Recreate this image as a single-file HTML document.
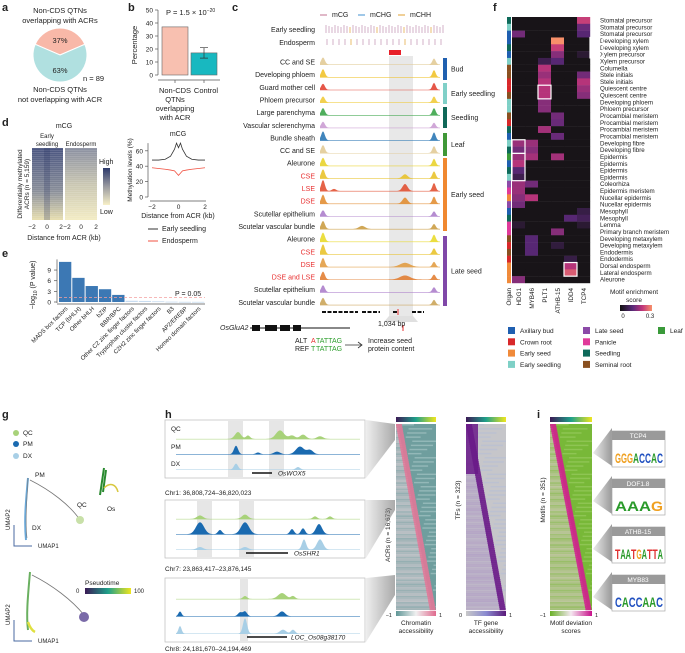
<!DOCTYPE html>
<html><head><meta charset="utf-8"><style>
body{margin:0;background:#fff}
svg{display:block;font-family:"Liberation Sans",sans-serif}
text{fill:#222}
</style></head><body>
<svg id="fig" width="685" height="653" viewBox="0 0 685 653">
<g font-size="7.5">
<text x="2" y="11" font-size="11" font-weight="bold">a</text>
<text x="60" y="13" text-anchor="middle">Non-CDS QTNs</text>
<text x="60" y="23" text-anchor="middle">overlapping with ACRs</text>
<g id="pie"></g>
<text x="83" y="81">n = 89</text>
<text x="60" y="92" text-anchor="middle">Non-CDS QTNs</text>
<text x="60" y="102" text-anchor="middle">not overlapping with ACR</text>
</g>
<g id="pb" font-size="7.5">
<text x="128" y="11" font-size="11" font-weight="bold">b</text>
<text x="137" y="45" transform="rotate(-90 137 45)" text-anchor="middle">Percentage</text>
<text x="166" y="15">P = 1.5 × 10<tspan dy="-3" font-size="5">−20</tspan></text>
<text x="175" y="93" text-anchor="middle">Non-CDS</text>
<text x="175" y="102" text-anchor="middle">QTNs</text>
<text x="175" y="111" text-anchor="middle">overlapping</text>
<text x="175" y="120" text-anchor="middle">with ACR</text>
<text x="206" y="93" text-anchor="middle">Control</text>
</g>
<g id="pd" font-size="7">
<text x="2" y="126" font-size="11" font-weight="bold">d</text>
<text x="64" y="128" text-anchor="middle">mCG</text>
<text x="47" y="138" text-anchor="middle" font-size="6">Early</text>
<text x="47" y="146" text-anchor="middle" font-size="6">seedling</text>
<text x="81" y="146" text-anchor="middle" font-size="6">Endosperm</text>
<defs>
<linearGradient id="hmA" x1="0" y1="0" x2="0" y2="1"><stop offset="0" stop-color="#4a5580"/><stop offset="0.6" stop-color="#8a8f9a"/><stop offset="1" stop-color="#e8dfb0"/></linearGradient>
<linearGradient id="hmB" x1="0" y1="0" x2="0" y2="1"><stop offset="0" stop-color="#8a8fa0"/><stop offset="0.5" stop-color="#c9c6b2"/><stop offset="1" stop-color="#f3ecc4"/></linearGradient>
<linearGradient id="hmCol" x1="0" y1="0" x2="0" y2="1"><stop offset="0" stop-color="#2d3a6b"/><stop offset="0.5" stop-color="#9a9aa0"/><stop offset="1" stop-color="#f7f0c8"/></linearGradient>
<linearGradient id="viri" x1="0" x2="1"><stop offset="0" stop-color="#3b1a55"/><stop offset="0.5" stop-color="#1fa08a"/><stop offset="1" stop-color="#f0e61e"/></linearGradient>
<linearGradient id="magma" x1="0" x2="1"><stop offset="0" stop-color="#111"/><stop offset="0.4" stop-color="#5a2a7a"/><stop offset="0.7" stop-color="#c0357a"/><stop offset="1" stop-color="#f8906a"/></linearGradient>
<linearGradient id="tealpink" x1="0" x2="1"><stop offset="0" stop-color="#5f9696"/><stop offset="0.5" stop-color="#f0f0f0"/><stop offset="1" stop-color="#e06a8e"/></linearGradient>
<linearGradient id="graypur" x1="0" x2="1"><stop offset="0" stop-color="#c8c8c8"/><stop offset="0.5" stop-color="#8a8ad0"/><stop offset="1" stop-color="#5a1a7a"/></linearGradient>
<linearGradient id="greenmag" x1="0" x2="1"><stop offset="0" stop-color="#6ab028"/><stop offset="0.5" stop-color="#f4e8f0"/><stop offset="1" stop-color="#c8108a"/></linearGradient>
<linearGradient id="fade" x1="0" x2="1"><stop offset="0" stop-color="#ddd"/><stop offset="1" stop-color="#555"/></linearGradient>
</defs>
<rect x="32" y="148" width="31" height="72" fill="url(#hmA)"/>
<rect x="65" y="148" width="32" height="72" fill="url(#hmB)"/>
<rect x="103" y="168" width="7" height="37" fill="url(#hmCol)"/>
<text x="99" y="164">High</text><text x="100" y="214">Low</text>
<text x="22" y="184" transform="rotate(-90 22 184)" text-anchor="middle" font-size="6.5">Differentially methylated</text>
<text x="29" y="184" transform="rotate(-90 29 184)" text-anchor="middle" font-size="6.5">ACRs (n = 5,159)</text>
<text x="32" y="229" text-anchor="middle" font-size="6.5">−2</text><text x="47" y="229" text-anchor="middle" font-size="6.5">0</text><text x="61" y="229" text-anchor="middle" font-size="6.5">2</text>
<text x="67" y="229" text-anchor="middle" font-size="6.5">−2</text><text x="81" y="229" text-anchor="middle" font-size="6.5">0</text><text x="96" y="229" text-anchor="middle" font-size="6.5">2</text>
<text x="64" y="240" text-anchor="middle">Distance from ACR (kb)</text>
<text x="178" y="136" text-anchor="middle">mCG</text>
<text x="132" y="170" transform="rotate(-90 132 170)" text-anchor="middle" font-size="6.5">Methylation levels (%)</text>
<text x="178" y="218" text-anchor="middle">Distance from ACR (kb)</text>
<line x1="148" y1="229" x2="158" y2="229" stroke="#333"/><text x="162" y="231">Early seedling</text>
<line x1="148" y1="241" x2="158" y2="241" stroke="#f05040"/><text x="162" y="243">Endosperm</text>
</g>
<g id="pe" font-size="6.5">
<text x="2" y="257" font-size="11" font-weight="bold">e</text>
<text x="35" y="285" transform="rotate(-90 35 285)" text-anchor="middle" font-size="7">−log<tspan font-size="5" dy="2">10</tspan><tspan dy="-2"> (P value)</tspan></text>
<text x="175" y="296" font-size="7">P = 0.05</text>
</g>
<g id="pc" font-size="7">
<text x="232" y="11" font-size="11" font-weight="bold">c</text>
<line x1="320" y1="15" x2="327" y2="15" stroke="#c07090"/><text x="332" y="17">mCG</text>
<line x1="358" y1="15" x2="365" y2="15" stroke="#4090d0"/><text x="370" y="17">mCHG</text>
<line x1="398" y1="15" x2="405" y2="15" stroke="#e0a030"/><text x="410" y="17">mCHH</text>
<text x="315" y="32" text-anchor="end">Early seedling</text>
<text x="315" y="45" text-anchor="end">Endosperm</text>
<rect x="389" y="56" width="24" height="260" fill="#e8e8e8"/>
<rect x="389" y="50" width="12" height="5" fill="#e8202a"/>
</g>
<g id="pf" font-size="6">
<text x="493" y="11" font-size="11" font-weight="bold">f</text>
<text x="634" y="294" text-anchor="middle" font-size="6.5">Motif enrichment</text>
<text x="634" y="302" text-anchor="middle" font-size="6.5">score</text>
<rect x="620" y="305" width="32" height="6" fill="url(#magma)"/>
<text x="623" y="318" text-anchor="middle">0</text><text x="650" y="318" text-anchor="middle">0.3</text>
</g>
<g id="pg" font-size="6.5">
<text x="2" y="418" font-size="11" font-weight="bold">g</text>
<circle cx="16" cy="433" r="3" fill="#a8d27a"/><text x="23" y="435">QC</text>
<circle cx="16" cy="444" r="3" fill="#1a6ab0"/><text x="23" y="446">PM</text>
<circle cx="16" cy="456" r="3" fill="#a8cfe6"/><text x="23" y="458">DX</text>
<path d="M28,478 C26,500 24,520 26,540" stroke="#6aa8d8" stroke-width="2" fill="none"/>
<path d="M30,480 C50,490 70,505 80,520" stroke="#777" stroke-width="0.8" fill="none"/>
<path d="M28,478 C27,500 25,520 27,538" stroke="#777" stroke-width="0.6" fill="none"/>
<circle cx="80" cy="520" r="4" fill="#c8e0a8"/>
<text x="35" y="477">PM</text><text x="77" y="507">QC</text><text x="32" y="530">DX</text>
<path d="M104,468 L100,495 M106,470 L103,492" stroke="#2a8a30" stroke-width="2"/>
<path d="M104,488 C110,482 116,484 118,492" stroke="#d8c840" stroke-width="1.5" fill="none"/>
<text x="107" y="511">Os</text>
<path d="M14,525 L14,546 L32,546" stroke="#4a6aa0" fill="none"/>
<text x="10" y="530" transform="rotate(-90 10 530)" font-size="6">UMAP2</text>
<text x="38" y="548" font-size="6">UMAP1</text>
<path d="M30,572 C28,595 26,615 28,630" stroke="#6ab060" stroke-width="2" fill="none"/>
<path d="M28,622 C30,628 33,631 35,632" stroke="#e0e040" stroke-width="2.5" fill="none"/>
<path d="M32,575 C52,585 72,600 84,615" stroke="#777" stroke-width="0.8" fill="none"/>
<circle cx="84" cy="617" r="5" fill="#7a6aa8"/>
<text x="85" y="585" font-size="6.5">Pseudotime</text>
<text x="76" y="593" font-size="6">0</text>
<rect x="85" y="588" width="46" height="6" fill="url(#viri)"/>
<text x="134" y="593" font-size="6">100</text>
<path d="M14,620 L14,641 L32,641" stroke="#4a6aa0" fill="none"/>
<text x="10" y="625" transform="rotate(-90 10 625)" font-size="6">UMAP2</text>
<text x="38" y="643" font-size="6">UMAP1</text>
</g>
<g id="ph" font-size="6.5">
<text x="165" y="418" font-size="11" font-weight="bold">h</text>
<text x="165" y="495">Chr1: 36,808,724–36,820,023</text>
<text x="165" y="571">Chr7: 23,863,417–23,876,145</text>
<text x="165" y="651">Chr8: 24,181,670–24,194,469</text>
<text x="171" y="431">QC</text><text x="171" y="449">PM</text><text x="171" y="466">DX</text>
</g>
<g id="phm" font-size="6.5"></g>
<g id="pi" font-size="6.5">
<text x="537" y="418" font-size="11" font-weight="bold">i</text>
</g>
</svg>
<script>
const NS='http://www.w3.org/2000/svg';
function mk(tag,attrs,parent){const e=document.createElementNS(NS,tag);for(const k in attrs)e.setAttribute(k,attrs[k]);parent.appendChild(e);return e;}
function tx(parent,x,y,s,attrs){const e=mk('text',Object.assign({x:x,y:y},attrs||{}),parent);e.textContent=s;return e;}

const pieLabels=['37%','63%'];
const pieValues=[37,63];
const pieColors=['#f8b8a8','#b0e0e0'];
(function(){const g=document.getElementById('pie');const cx=60,cy=55,r=27;let start=-pieValues[0]/100*Math.PI;
pieValues.forEach((v,i)=>{const a=v/100*2*Math.PI;const s=start,e=start+a;
const x1=cx+r*Math.sin(s),y1=cy-r*Math.cos(s),x2=cx+r*Math.sin(e),y2=cy-r*Math.cos(e);
const p=mk('path',{d:`M${cx},${cy} L${x1},${y1} A${r},${r} 0 ${a>Math.PI?1:0} 1 ${x2},${y2} Z`,fill:pieColors[i],stroke:'#fff','stroke-width':1},g);

const m=(s+e)/2;tx(g,cx+r*0.55*Math.sin(m),cy-r*0.55*Math.cos(m)+3,pieLabels[i],{'text-anchor':'middle','font-size':7.5});
start=e;});})();

const bCats=['Non-CDS','Control'];
const bValues=[37,17];
const bErr=[0,4];
const bTicks=[0,10,20,30,40,50];
(function(){const g=document.getElementById('pb');const y=v=>75-v*1.3;
mk('line',{x1:158,y1:y(0),x2:158,y2:y(50),stroke:'#555','stroke-width':0.7},g);
mk('line',{x1:158,y1:80,x2:220,y2:80,stroke:'#555','stroke-width':0.7},g);
bTicks.forEach(t=>{mk('line',{x1:155,y1:y(t),x2:158,y2:y(t),stroke:'#555','stroke-width':0.7},g);tx(g,153,y(t)+2.5,String(t),{'text-anchor':'end','font-size':6.5});});
const cols=['#f8c0b0','#18b8c0'];
bValues.forEach((v,i)=>{const x=162+i*29;const r=mk('rect',{x:x,y:y(v),width:26,height:v*1.3,fill:cols[i],stroke:'#666','stroke-width':0.6},g);

if(bErr[i]){const cx=x+13;mk('path',{d:`M${cx},${y(v+bErr[i])}V${y(v-bErr[i])}M${cx-4},${y(v+bErr[i])}h8M${cx-4},${y(v-bErr[i])}h8`,stroke:'#333','stroke-width':0.7,fill:'none'},g);}
mk('line',{x1:x+13,y1:80,x2:x+13,y2:83,stroke:'#555','stroke-width':0.7},g);});})();

const dX=[-2,-1.5,-1,-0.6,-0.3,-0.15,0,0.15,0.3,0.6,1,1.5,2];
const dEarly=[48,48,49,53,62,70,64,70,62,53,49,48,48];
const dEndo=[38,37,36,35,34,31,28,31,34,35,36,37,38];
const dTicks=[0,20,40,60];
(function(){const g=document.getElementById('pd');const X=v=>152+(v+2)/4*53,Y=v=>197-v*0.77;
mk('path',{d:`M148,${Y(70)}V${Y(0)}M150,201H206`,stroke:'#555','stroke-width':0.7,fill:'none'},g);
dTicks.forEach(t=>{mk('line',{x1:145,y1:Y(t),x2:148,y2:Y(t),stroke:'#555','stroke-width':0.7},g);tx(g,143,Y(t)+2.5,String(t),{'text-anchor':'end','font-size':6.5});});
[-2,0,2].forEach(t=>tx(g,X(t),209,t<0?'−2':String(t),{'text-anchor':'middle','font-size':6.5}));
const l1=mk('path',{d:dX.map((v,i)=>(i?'L':'M')+X(v)+','+Y(dEarly[i])).join(''),fill:'none',stroke:'#333','stroke-width':0.8},g);

const l2=mk('path',{d:dX.map((v,i)=>(i?'L':'M')+X(v)+','+Y(dEndo[i])).join(''),fill:'none',stroke:'#f05040','stroke-width':0.8},g);

const hg=document.getElementById('pd');for(let i=0;i<36;i++){const o=0.08+0.08*((i*7)%5)/5;mk('rect',{x:32,y:148+i*2,width:31,height:1,fill:'#fff',opacity:o},hg);mk('rect',{x:65,y:148+i*2,width:32,height:1,fill:'#fff',opacity:o},hg);}
mk('rect',{x:44,y:148,width:6,height:72,fill:'#223060',opacity:0.25},hg);})();

const eCats=['MADS box factors','TCP (bHLH)','Other bHLH','bZIP','BBR/BPC','Other C2 zinc finger factors','Tryptophan cluster factors','C2H2 zinc finger factors','B3','AP2/EREBP','Homeo domain factors'];
const eValues=[11.3,6.8,4.5,3.6,2.0,0.35,0.3,0.2,0.1,0.06,0.05];
const eTicks=[0,3,6,9];
const eThresh=1.3;
(function(){const g=document.getElementById('pe');const Y=v=>302-v*3.55;
mk('line',{x1:57,y1:Y(12),x2:57,y2:303,stroke:'#555','stroke-width':0.7},g);
mk('line',{x1:57,y1:304,x2:205,y2:304,stroke:'#555','stroke-width':0.7},g);
eTicks.forEach(t=>{mk('line',{x1:54,y1:Y(t),x2:57,y2:Y(t),stroke:'#555','stroke-width':0.7},g);tx(g,51,Y(t)+2.5,String(t),{'text-anchor':'end'});});
eValues.forEach((v,i)=>{const x=59+i*13.3;const b=mk('rect',{x:x,y:Y(v),width:12.3,height:Math.max(v*3.55,0.8),fill:i<5?'#3c78b4':'#c8dcf0'},g);

tx(g,x+9,309,eCats[i],{transform:`rotate(-45 ${x+9} 309)`,'text-anchor':'end','font-size':6});});
mk('line',{x1:59,y1:Y(eThresh),x2:205,y2:Y(eThresh),stroke:'#f4a0a0','stroke-dasharray':'3,2','stroke-width':0.8},g);})();

const cNames=['CC and SE','Developing phloem','Guard mother cell','Phloem precursor','Large parenchyma','Vascular sclerenchyma','Bundle sheath','CC and SE','Aleurone','CSE','LSE','DSE','Scutellar epithelium','Scutelar vascular bundle','Aleurone','CSE','DSE','DSE and LSE','Scutellar epithelium','Scutelar vascular bundle'];
const cColors=['#e0c890','#f0c020','#e03828','#f0c830','#30a040','#c898d0','#2070b0','#e0c890','#e8d020','#e8c020','#e04828','#e08828','#a878c8','#c89838','#e8d820','#e8c020','#e09838','#e07828','#a878c8','#c8a050'];
const cLeft=[7,8,6,6,7,6,9,8,8,9,11,9,6,8,9,10,9,8,7,7];
const cRight=[6,7,7,6,7,5,8,7,7,7,8,7,5,5,7,6,5,5,5,5];
const cMid=[0,0,0,0,0,0,0,0,0,4,7,6,0,0,0,0,4,4,0,0];
const cRed=[9,10,11,15,16,17];
const cGroups=[['Bud',58,80,'#2060b0'],['Early seedling',83,104,'#80d0c8'],['Seedling',107,128,'#106858'],['Leaf',133,156,'#409838'],['Early seed',158,231,'#f08830'],['Late seed',236,306,'#8048a8']];
(function(){const g=document.getElementById('pc');
const bump=(x,c,h,w)=>h*Math.exp(-((x-c)*(x-c))/(2*w*w));
cNames.forEach((n,i)=>{const ty=62+i*12.65;const base=ty+3;
const t=tx(g,315,ty+2.5,n,{'text-anchor':'end'});if(cRed.includes(i)){t.setAttribute('fill','#e83030');t.style.fill='#e83030';}
let d=`M320,${base}`;for(let x=320;x<=440;x+=1){let h=bump(x,323,cLeft[i],1.8)+bump(x,434,cRight[i],1.6)+bump(x,405,cMid[i],cMid[i]&&(i>=16)?5:2.5)+0.6;if(i==10)h+=bump(x,334,2,2);if(i==13)h+=bump(x,362,3,3);d+=`L${x},${base-h}`;}
d+=`L440,${base}Z`;const p=mk('path',{d:d,fill:cColors[i],opacity:0.85},g);});
cGroups.forEach(gr=>{mk('rect',{x:443,y:gr[1],width:4,height:gr[2]-gr[1],fill:gr[3]},g);tx(g,451,(gr[1]+gr[2])/2+2.5,gr[0],{'font-size':7});});
for(let i=0;i<40;i++){const x=326+i*3;const cc=i%9==8?'#e0a030':'#c090b0';mk('line',{x1:x,y1:25+(i%3),x2:x,y2:33,stroke:cc,'stroke-width':0.7},g);if(i%2==0)mk('line',{x1:x+1,y1:39,x2:x+1,y2:45,stroke:cc,'stroke-width':0.7},g);}
mk('path',{d:'M322,312H358M362,312H380M393,312H398M412,312H424',stroke:'#111','stroke-width':2,'stroke-dasharray':'4,1.5'},g);
mk('line',{x1:398,y1:309,x2:398,y2:315,stroke:'#e83030','stroke-width':1},g);
mk('polygon',{points:'389,316 413,316 418,322 384,322',fill:'#e0e0e0'},g);
tx(g,220,330,'OsGluA2',{'font-style':'italic'});
mk('path',{d:'M250,328H350',stroke:'#111','stroke-width':1},g);
mk('path',{d:'M252,325h8v6h-8zM265,325h12v6h-12zM280,325h10v6h-10zM293,325h8v6h-8z',fill:'#111'},g);
mk('line',{x1:403,y1:325,x2:403,y2:331,stroke:'#e83030'},g);
tx(g,378,326,'1,034 bp');
tx(g,295,343,'ALT ');tx(g,311,343,'A').style.fill='#e83030';tx(g,316,343,'TATTAG').style.fill='#30a030';
tx(g,295,351,'REF ');tx(g,311,351,'T').style.fill='#30a030';tx(g,316,351,'TATTAG').style.fill='#30a030';
tx(g,368,343,'Increase seed');tx(g,368,351,'protein content');
mk('path',{d:'M345,345H362M358,342l4,3l-4,3',stroke:'#333',fill:'none','stroke-width':0.8},g);})();

const fCols=['HDG1','MYB46','PLT1','ATHB-15','IDD4','TCP4'];
const fRows=['Stomatal precursor','Stomatal precursor','Stomatal precursor','Developing xylem','Developing xylem','Xylem precursor','Xylem precursor','Columella','Stele initials','Stele initials','Quiescent centre','Quiescent centre','Developing phloem','Phloem precursor','Procambial meristem','Procambial meristem','Procambial meristem','Procambial meristem','Developing fibre','Developing fibre','Epidermis','Epidermis','Epidermis','Epidermis','Coleorhiza','Epidermis meristem','Nucellar epidermis','Nucellar epidermis','Mesophyll','Mesophyll','Lemma','Primary branch meristem','Developing metaxylem','Developing metaxylem','Endodermis','Endodermis','Dorsal endosperm','Lateral endosperm','Aleurone'];
const fOrgan=['Seedling','Early seedling','Axillary bud','Axillary bud','Seedling','Axillary bud','Early seedling','Seminal root','Seminal root','Crown root','Crown root','Seminal root','Early seedling','Early seedling','Seminal root','Crown root','Seedling','Axillary bud','Early seedling','Seedling','Leaf','Axillary bud','Seedling','Early seedling','Late seed','Panicle','Early seed','Late seed','Axillary bud','Seedling','Panicle','Panicle','Seminal root','Crown root','Seminal root','Crown root','Early seed','Early seed','Early seed'];
const fVals=[[0,0,0,0,0,.22],[0,0,0,0,0,.12],[.13,0,0,0,0,.1],[0,0,0,.3,0,0],[0,0,0,.22,0,0],[0,0,0,.15,0,.03],[0,0,.06,.1,0,0],[0,0,.2,0,0,0],[0,0,.17,0,0,.13],[0,0,.2,0,0,.2],[0,0,.2,0,0,.17],[0,0,.2,0,0,.15],[0,0,.15,0,0,0],[0,0,.15,0,0,0],[0,0,0,.13,0,0],[0,0,0,.12,0,0],[0,0,.18,0,0,0],[0,0,0,.12,0,0],[.17,.17,0,0,0,0],[.13,.15,0,0,0,0],[.17,.18,0,.18,0,0],[.2,0,0,0,0,0],[.1,0,0,0,0,0],[.06,0,0,0,0,0],[.17,.13,0,0,0,0],[.17,0,0,0,0,0],[.15,.2,0,0,0,0],[.13,0,0,0,0,0],[0,0,0,0,0,.05],[0,0,0,0,.1,.07],[.03,0,0,0,0,.03],[0,0,0,.15,0,0],[0,.1,0,0,0,0],[0,.1,0,.04,0,0],[0,.1,0,0,0,0],[0,0,0,0,.05,0],[0,0,0,0,.2,0],[0,0,0,0,.25,0],[.15,0,0,0,0,0]];
const organNames=['Axillary bud','Crown root','Early seed','Early seedling','Late seed','Panicle','Seedling','Seminal root','Leaf'];
const organColors={'Axillary bud':'#1f5fb0','Crown root':'#d8282a','Early seed':'#f08a3a','Early seedling':'#7ed0c6','Late seed':'#8c4aa8','Panicle':'#e03a9a','Seedling':'#0e6a5a','Seminal root':'#8a5020','Leaf':'#3a9a3a'};
function magma(v){const t=Math.min(v/0.3,1);const st=[[0,[24,20,24]],[0.35,[90,40,120]],[0.7,[192,53,122]],[1,[248,144,106]]];for(let i=1;i<st.length;i++){if(t<=st[i][0]){const a=st[i-1],b=st[i],f=(t-a[0])/(b[0]-a[0]);return 'rgb('+a[1].map((c,k)=>Math.round(c+(b[1][k]-c)*f)).join(',')+')';}}}
(function(){const g=document.getElementById('pf');const x0=512,cw=13,y0=17,rh=266/fRows.length;
fRows.forEach((n,r)=>{const y=y0+r*rh;mk('rect',{x:507,y:y,width:4,height:rh+0.2,fill:organColors[fOrgan[r]]},g);
fVals[r].forEach((v,c)=>{const cell=mk('rect',{x:x0+c*cw,y:y,width:cw+0.2,height:rh+0.2,fill:magma(v)},g);});
tx(g,600,y+rh-1.3,n,{'font-size':6.2});});
[[3,3,6,4],[10,2,2,2],[18,2,0,1],[20,4,0,0],[36,2,4,4]].forEach(b=>{mk('rect',{x:x0+b[2]*cw,y:y0+b[0]*rh,width:cw,height:b[1]*rh,fill:'none',stroke:'#fff','stroke-width':1.2},g);});
['Organ'].concat(fCols).forEach((c,i)=>{const x=i==0?511:x0+(i-1)*cw+9;tx(g,x,288,c,{transform:`rotate(-90 ${x} 288)`,'text-anchor':'end','font-size':6.3});});
organNames.forEach((o,i)=>{const col=i<4?0:i<8?1:2;const row=i<4?i:i<8?i-4:0;const x=508+col*75,y=327+row*11.3;mk('rect',{x:x,y:y,width:7,height:7,fill:organColors[o]},g);tx(g,x+12,y+6,o,{'font-size':6.5});});})();

const hBoxes=[[420,478],[500,558],[578,642]];
const hGenes=['OsWOX5','OsSHR1','LOC_Os08g38170'];
const hPeaks=[
 [[[238,8,3],[248,4,2],[280,10,4],[292,4,3],[303,5,3],[320,3,3]],[[236,10,2],[258,2,2],[277,3,3],[300,9,4],[310,5,3]],[[236,7,2],[298,3,2]]],
 [[[200,4,3],[245,5,3],[315,3,2],[330,3,2]],[[200,14,4],[220,5,2],[245,14,4],[292,6,2],[303,7,2],[319,12,3]],[[200,3,3],[245,3,3],[304,12,2],[320,12,3]]],
 [[[245,3,2],[282,6,4],[293,3,2]],[[180,5,1.5],[240,4,2],[245,5,2],[282,5,3]],[[180,8,1.5],[245,16,2],[283,4,3],[293,4,2]]]];
const hHighlights=[[[228,243],[269,284]],[[197,212],[239,254]],[[240,248]]];
const hCols=['#a8d27a','#1a6ab0','#a8cfe6'];
(function(){const g=document.getElementById('ph');const bump=(x,c,h,w)=>h*Math.exp(-((x-c)*(x-c))/(2*w*w));
hBoxes.forEach((b,bi)=>{mk('rect',{x:165,y:b[0],width:200,height:b[1]-b[0],fill:'none',stroke:'#bbb','stroke-width':0.7},g);
hHighlights[bi].forEach(h=>mk('rect',{x:h[0],y:b[0]+1,width:h[1]-h[0],height:b[1]-b[0]-2,fill:'#e6e6e6'},g));
const th=(b[1]-b[0]-12)/3;
hPeaks[bi].forEach((pk,ti)=>{const base=b[0]+4+th*(ti+1);let d=`M176,${base}`;for(let x=176;x<=360;x++){let h=0.5;pk.forEach(p=>h+=bump(x,p[0],p[1]*(th/18),p[2]));d+=`L${x},${base-h}`;}d+='L360,'+base+'Z';
const p=mk('path',{d:d,fill:hCols[ti]},g);});
const gy=b[1]-5;const gx=[252,246,247][bi];mk('path',{d:`M${gx},${gy}H${gx+(bi==0?20:bi==1?42:40)}`,stroke:'#111','stroke-width':1.5},g);
tx(g,gx+(bi==0?26:bi==1?48:44),gy+2.5,hGenes[bi],{'font-style':'italic'});});})();

const hmRows=90;
(function(){const g=document.getElementById('phm');
function hm(x,w,y0,y1,bg,band,left,leftOp,name,bandStart,bandEnd,streak){const gg=mk('g',{},g);
mk('rect',{x:x,y:y0,width:w,height:y1-y0,fill:bg},gg);const rh=(y1-y0)/hmRows;
for(let r=0;r<hmRows;r++){const f=r/hmRows;const bx=x+w*(bandStart+(bandEnd-bandStart)*f);
const k=((r*37)%11)/11;
mk('rect',{x:x,y:y0+r*rh,width:Math.max(bx-x,0),height:rh+0.3,fill:left,opacity:leftOp*(0.5+0.5*k)},gg);
mk('rect',{x:Math.max(bx-2,x),y:y0+r*rh,width:Math.min(6,x+w-Math.max(bx-2,x)),height:rh+0.3,fill:band,opacity:0.9},gg);
const sx=bx+4+k*8;const sw=Math.min(w*(0.3+0.4*k),x+w-sx);
if(r%2==0&&sw>0)mk('rect',{x:sx,y:y0+r*rh,width:sw,height:rh*0.7,fill:streak,opacity:0.35},gg);}
mk('rect',{x:x,y:y0-7,width:w,height:5,fill:'url(#viri)'},gg);}
hm(396,40,424,610,'#6f9e9e','#e07898','#f0d8e0',0.6,'chromatin-heatmap',0.05,0.9,'#d8e8e8');
hm(466,40,424,610,'#c6c6ca','#6a1a88','#9a70c0',0.35,'tf-heatmap',0.05,0.9,'#a8b8e0');
mk('rect',{x:466,y:424,width:12,height:50,fill:'#6a1a88',opacity:0.85},g);
hm(550,42,424,610,'#78b838','#d0208e','#f0d0e8',0.55,'motif-heatmap',0.05,0.9,'#b8dc88');
mk('rect',{x:396,y:611,width:40,height:5,fill:'url(#tealpink)'},g);tx(g,392,617,'−1',{'font-size':5.5,'text-anchor':'end'});tx(g,439,617,'1',{'font-size':5.5});
tx(g,416,625,'Chromatin',{'text-anchor':'middle'});tx(g,416,633,'accessibility',{'text-anchor':'middle'});
mk('rect',{x:466,y:611,width:40,height:5,fill:'url(#graypur)'},g);tx(g,462,617,'0',{'font-size':5.5,'text-anchor':'end'});tx(g,509,617,'1',{'font-size':5.5});
tx(g,486,625,'TF gene',{'text-anchor':'middle'});tx(g,486,633,'accessibility',{'text-anchor':'middle'});
mk('rect',{x:550,y:611,width:42,height:5,fill:'url(#greenmag)'},g);tx(g,546,617,'−1',{'font-size':5.5,'text-anchor':'end'});tx(g,595,617,'1',{'font-size':5.5});
tx(g,571,625,'Motif deviation',{'text-anchor':'middle'});tx(g,571,633,'scores',{'text-anchor':'middle'});
tx(g,390,535,'ACRs (n = 16,673)',{transform:'rotate(-90 390 535)','text-anchor':'middle'});
tx(g,460,500,'TFs (n = 323)',{transform:'rotate(-90 460 500)','text-anchor':'middle'});
tx(g,545,500,'Motifs (n = 351)',{transform:'rotate(-90 545 500)','text-anchor':'middle'});
[[420,478,424,440],[500,558,500,510],[578,642,575,595]].forEach(z=>mk('polygon',{points:`366,${z[0]} 395,${z[2]} 395,${z[3]} 366,${z[1]}`,fill:'url(#fade)',opacity:0.5},g));
const logos=['TCP4','DOF1.8','ATHB-15','MYB83'];const seqs=[['G','G','G','A','C','C','A','C'],['A','A','A','G'],['T','A','A','T','G','A','T','T','A'],['C','A','C','C','A','A','C']];
const lc={A:'#2a9a2a',C:'#2050c0',G:'#f0a020',T:'#e03030'};
logos.forEach((n,i)=>{const y=433+i*48;mk('polygon',{points:`593,${y+20} 612,${y-5} 612,${y+33}`,fill:'url(#fade)',opacity:0.6},g);
mk('rect',{x:612,y:y-2,width:53,height:36,fill:'#fff',stroke:'#aaa','stroke-width':0.7},g);mk('rect',{x:612,y:y-2,width:53,height:9,fill:'#9a9a9a'},g);
tx(g,638,y+5,n,{'text-anchor':'middle','font-size':6.5}).style.fill='#fff';
const s=seqs[i];const cw=48/s.length;s.forEach((ch,k)=>{const t=tx(g,615+k*cw+cw/2,y+30,ch,{'text-anchor':'middle','font-size':14,'font-weight':'bold'});t.style.fill=lc[ch];t.setAttribute('textLength',cw);t.setAttribute('lengthAdjust','spacingAndGlyphs');});});})();
</script>
</body></html>
